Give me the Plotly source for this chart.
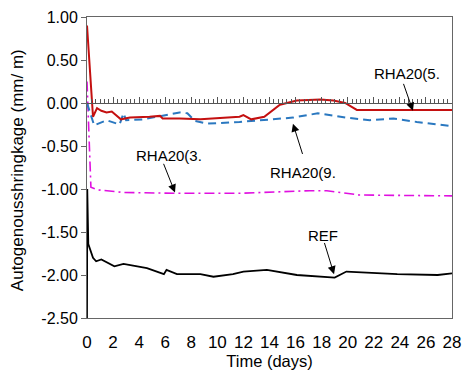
import plotly.graph_objects as go

# ---- data ----
ref_x = [0, 0.02, 0.1, 0.46, 0.7, 1.1, 2.1, 2.8, 4.6, 5.9, 6.1, 6.9, 8.7, 9.7, 11.2, 12.0, 13.8, 16.1, 19.0, 19.9, 23.8, 26.9, 28]
ref_y = [-2.5, -1.0, -1.64, -1.8, -1.84, -1.82, -1.9, -1.87, -1.92, -1.99, -1.94, -1.99, -1.99, -2.02, -1.99, -1.96, -1.94, -2.0, -2.03, -1.96, -1.99, -2.0, -1.98]

rha3_x = [0, 0.3, 0.8, 2.8, 6.9, 11.7, 17.1, 18.4, 20.9, 28]
rha3_y = [0.25, -0.98, -1.01, -1.04, -1.05, -1.05, -1.02, -1.02, -1.07, -1.08]

rha5_x = [0, 0.46, 0.77, 1.1, 1.5, 1.9, 2.6, 3.3, 4.8, 5.6, 5.8, 7.1, 8.7, 11.7, 12.0, 12.6, 13.6, 14.8, 16.1, 17.9, 18.9, 19.8, 20.7, 28]
rha5_y = [0.9, -0.16, -0.06, -0.09, -0.11, -0.10, -0.19, -0.17, -0.16, -0.15, -0.18, -0.18, -0.19, -0.16, -0.14, -0.19, -0.16, -0.02, 0.03, 0.04, 0.03, 0.0, -0.08, -0.08]

rha9_x = [0, 0.55, 1.5, 2.5, 2.8, 3.0, 4.3, 6.6, 7.1, 7.7, 8.3, 9.2, 11.7, 15.8, 17.7, 19.9, 21.7, 23.5, 25.3, 28]
rha9_y = [0.0, -0.26, -0.2, -0.25, -0.12, -0.2, -0.19, -0.12, -0.11, -0.12, -0.21, -0.24, -0.22, -0.17, -0.12, -0.17, -0.2, -0.18, -0.22, -0.27]

x_ticks = list(range(0, 29, 2))
y_ticks = [1.0, 0.5, 0.0, -0.5, -1.0, -1.5, -2.0, -2.5]

y_title = "Autogenousshringkage (mm/ m)"
x_title = "Time (days)"

# label text position, arrow tail, arrow tip (data coords)
labels = ["RHA20(3.", "RHA20(9.", "RHA20(5.", "REF"]
label_pos = [(6.29, -0.61), (16.57, -0.81), (24.55, 0.34), (18.1, -1.54)]
arrow_tail = [(5.83, -0.69), (16.57, -0.61), (24.24, 0.24), (18.18, -1.61)]
arrow_tip = [(6.75, -1.04), (15.80, -0.24), (25.0, -0.09), (18.95, -1.99)]

FONT = "Liberation Sans, Arial, sans-serif"

fig = go.Figure()
fig.add_trace(go.Scatter(x=rha3_x, y=rha3_y, mode="lines",
                         line=dict(color="#e010e0", width=1.6, dash="10px,4px,2px,4px"),
                         showlegend=False))
fig.add_trace(go.Scatter(x=rha9_x, y=rha9_y, mode="lines",
                         line=dict(color="#2a78c0", width=2, dash="8px,5px"),
                         showlegend=False))
fig.add_trace(go.Scatter(x=rha5_x, y=rha5_y, mode="lines",
                         line=dict(color="#c41010", width=2),
                         showlegend=False))
fig.add_trace(go.Scatter(x=ref_x, y=ref_y, mode="lines", xaxis="x2",
                         line=dict(color="#000000", width=1.8),
                         showlegend=False))

annotations = []
for t, (lx, ly) in zip(labels, label_pos):
    annotations.append(dict(x=lx, y=ly, xref="x", yref="y", text=t, showarrow=False,
                            font=dict(family=FONT, size=15, color="#000")))
for (tx, ty), (hx, hy) in zip(arrow_tail, arrow_tip):
    annotations.append(dict(x=hx, y=hy, xref="x", yref="y", ax=tx, ay=ty,
                            axref="x", ayref="y", text="", showarrow=True,
                            arrowhead=2, arrowsize=1.6, arrowwidth=1,
                            arrowcolor="#000", standoff=0, startstandoff=0))
# y-axis title as a rotated annotation (placed like the reference)
annotations.append(dict(x=-0.19, y=0.49, xref="paper", yref="paper", text=y_title,
                        textangle=-90, showarrow=False, xanchor="center", yanchor="middle",
                        font=dict(family=FONT, size=17, color="#000")))

fig.update_layout(
    width=466, height=374,
    margin=dict(l=79, r=22, t=9, b=64),
    paper_bgcolor="white", plot_bgcolor="white",
    font=dict(family=FONT, size=16, color="#000"),
    xaxis=dict(range=[0, 28], tickvals=x_ticks, ticktext=[str(v) for v in x_ticks],
               showgrid=False, zeroline=False, showline=True, mirror=True,
               linecolor="#666", linewidth=1, ticks="", automargin=False,
               tickfont=dict(size=17), ticklabeloverflow="allow",
               ticklabelstandoff=9,
               title=dict(text=x_title, font=dict(size=16.5), standoff=0)),
    xaxis2=dict(range=[0, 28], overlaying="x", anchor="free", position=2.5 / 3.5,
                showgrid=False, zeroline=False, showline=True, linecolor="#555",
                linewidth=1, showticklabels=False, ticks="inside", ticklen=6,
                tickcolor="#555", tickwidth=1, dtick=2, tick0=0, automargin=False,
                minor=dict(ticks="inside", dtick=1 / 3, tick0=0, ticklen=4,
                           tickcolor="#555", tickwidth=1)),
    yaxis=dict(range=[-2.5, 1.0], tickvals=y_ticks,
               ticktext=[f"{v:.2f}" for v in y_ticks],
               showgrid=False, zeroline=False, showline=True, mirror=True,
               linecolor="#666", linewidth=1, ticks="outside", ticklen=5,
               tickcolor="#666", tickfont=dict(size=16), automargin=False,
               ticklabeloverflow="allow"),
    annotations=annotations,
)

fig.write_html("out.html")
